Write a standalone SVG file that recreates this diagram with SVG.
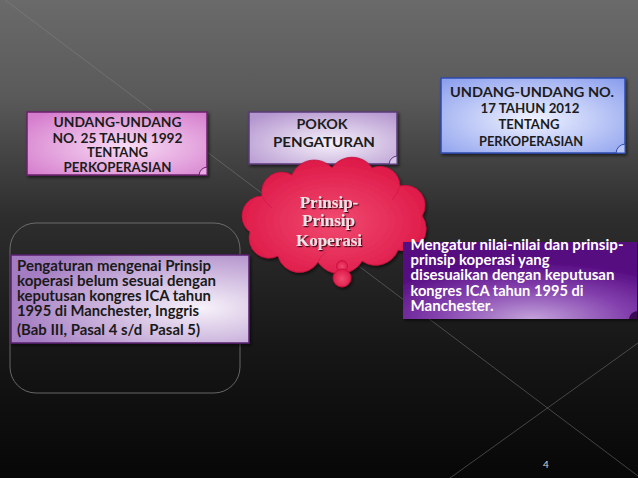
<svg xmlns="http://www.w3.org/2000/svg" width="638" height="478" viewBox="0 0 638 478">
<defs>
<linearGradient id="bg" x1="0" y1="0" x2="0" y2="1">
<stop offset="0" stop-color="#6a6a6a"/><stop offset="0.2" stop-color="#5a5a5a"/><stop offset="0.45" stop-color="#2e2e2e"/><stop offset="0.75" stop-color="#151515"/><stop offset="1" stop-color="#070707"/>
</linearGradient>
<radialGradient id="gPink" cx="0.55" cy="0.55" r="0.7"><stop offset="0" stop-color="#f8dcf4"/><stop offset="1" stop-color="#d57ccd"/></radialGradient>
<radialGradient id="gLav" cx="0.55" cy="0.6" r="0.7"><stop offset="0" stop-color="#f6f1fa"/><stop offset="1" stop-color="#b597d0"/></radialGradient>
<radialGradient id="gBlue" cx="0.5" cy="0.55" r="0.7"><stop offset="0" stop-color="#f0f3ff"/><stop offset="1" stop-color="#8da0ee"/></radialGradient>
<radialGradient id="gLeft" cx="0.8" cy="0.6" r="0.8"><stop offset="0" stop-color="#f7f2fa"/><stop offset="1" stop-color="#a47cc2"/></radialGradient>
<radialGradient id="gRight" cx="0.55" cy="1" r="0.75"><stop offset="0" stop-color="#c3a2db"/><stop offset="0.55" stop-color="#8340ad"/><stop offset="1" stop-color="#550a80"/></radialGradient>
<radialGradient id="gCloud" cx="0.5" cy="0.55" r="0.6"><stop offset="0" stop-color="#f04a70"/><stop offset="1" stop-color="#dc1444"/></radialGradient>
<filter id="sh" x="-10%" y="-10%" width="130%" height="140%"><feDropShadow dx="1.5" dy="2" stdDeviation="1.5" flood-color="#000" flood-opacity="0.55"/></filter>
<filter id="tsh" x="-10%" y="-10%" width="130%" height="140%"><feDropShadow dx="1.2" dy="1.2" stdDeviation="0.4" flood-color="#300010" flood-opacity="0.9"/></filter>
</defs>
<style>
.hd{font-family:Lato,"Liberation Sans",sans-serif;font-weight:bold;font-size:13.5px;fill:#1c1c1c;text-anchor:middle}
.bd{font-family:Lato,"Liberation Sans",sans-serif;font-weight:bold;font-size:14.5px;fill:#1a1a1a}
.wt{font-family:Lato,"Liberation Sans",sans-serif;font-weight:bold;font-size:14.5px;fill:#ffffff}
.cl{font-family:"Liberation Serif",serif;font-weight:bold;font-size:17px;fill:#f6e0e6;text-anchor:middle}
.curl{stroke-width:1}
</style>
<rect width="638" height="478" fill="url(#bg)"/>
<g id="decor" fill="none" stroke="#8a8a8a" stroke-opacity="0.45" stroke-width="1">
<line x1="5" y1="0" x2="638" y2="476"/>
<line x1="450" y1="478" x2="638" y2="343"/>
<rect x="10" y="223" width="230" height="170" rx="26" stroke="#7a7a7a" stroke-opacity="0.8"/>
</g>
<g id="connectors"/>
<g id="uu1992">
<rect x="27" y="112" width="180" height="63" fill="url(#gPink)" stroke="#6b1f6b" stroke-width="1.5" filter="url(#sh)"/>
<path d="M199,175 Q200,168 207,167 L207,175 Z" fill="#e9a9e3" stroke="#6b1f6b" class="curl"/>
<text class="hd" x="117.5" y="126.5" textLength="128" lengthAdjust="spacingAndGlyphs">UNDANG-UNDANG</text>
<text class="hd" x="117.5" y="143" textLength="130" lengthAdjust="spacingAndGlyphs">NO. 25 TAHUN 1992</text>
<text class="hd" x="117.5" y="157" textLength="61" lengthAdjust="spacingAndGlyphs">TENTANG</text>
<text class="hd" x="117.5" y="171.5" textLength="108" lengthAdjust="spacingAndGlyphs">PERKOPERASIAN</text>
</g>
<g id="pokok">
<rect x="249" y="112" width="148" height="52" fill="url(#gLav)" stroke="#5b3a7a" stroke-width="1.5" filter="url(#sh)"/>
<path d="M389,164 Q390,157 397,156 L397,164 Z" fill="#d8c6ea" stroke="#5b3a7a" class="curl"/>
<text class="hd" x="322" y="129.3" font-size="15" textLength="51" lengthAdjust="spacingAndGlyphs">POKOK</text>
<text class="hd" x="324" y="146.7" font-size="15" textLength="102" lengthAdjust="spacingAndGlyphs">PENGATURAN</text>
</g>
<g id="uu2012">
<rect x="441" y="78" width="184" height="75" fill="url(#gBlue)" stroke="#2c4bb0" stroke-width="1.5" filter="url(#sh)"/>
<path d="M616,153 Q617,145 625,144 L625,153 Z" fill="#b9c6f6" stroke="#2c4bb0" class="curl"/>
<text class="hd" x="532" y="96.7" textLength="164" lengthAdjust="spacingAndGlyphs">UNDANG-UNDANG NO.</text>
<text class="hd" x="530" y="112.7" textLength="99" lengthAdjust="spacingAndGlyphs">17 TAHUN 2012</text>
<text class="hd" x="529" y="129.3" textLength="61" lengthAdjust="spacingAndGlyphs">TENTANG</text>
<text class="hd" x="531" y="146" textLength="104" lengthAdjust="spacingAndGlyphs">PERKOPERASIAN</text>
</g>
<g id="lama">
<rect x="11" y="255" width="238" height="88" fill="url(#gLeft)" stroke="#5a1f70" stroke-width="1.5" filter="url(#sh)"/>
<text class="bd" x="17" y="270.7" textLength="194" lengthAdjust="spacingAndGlyphs">Pengaturan mengenai Prinsip</text>
<text class="bd" x="17" y="285.5" textLength="199" lengthAdjust="spacingAndGlyphs">koperasi belum sesuai dengan</text>
<text class="bd" x="17" y="301" textLength="194" lengthAdjust="spacingAndGlyphs">keputusan kongres ICA tahun</text>
<text class="bd" x="17" y="316.3" textLength="182" lengthAdjust="spacingAndGlyphs">1995 di Manchester, Inggris</text>
<text class="bd" x="17" y="335" textLength="183" lengthAdjust="spacingAndGlyphs" xml:space="preserve">(Bab III, Pasal 4 s/d  Pasal 5)</text>
</g>
<g id="prinsip">
<g filter="url(#sh)" fill="url(#gCloud)" stroke="#c8103a" stroke-width="0.8">
<path d="M250,232 A20,20 0 0 1 262,196 A20,20 0 0 1 292,175 A24,24 0 0 1 332,168 A24,24 0 0 1 372,168 A20,20 0 0 1 400,186 A20,20 0 0 1 422,216 A22,22 0 0 1 398,250 A24,24 0 0 1 362,261 A26,26 0 0 1 318,262 A22,22 0 0 1 278,256 A20,20 0 0 1 250,232 Z"/>
<circle cx="342" cy="266" r="5.5"/>
<circle cx="342" cy="278" r="9"/>
</g>
<g fill="none" stroke="#b80c36" stroke-opacity="0.45" stroke-width="0.8">
<path d="M262,196 Q266,204 272,208"/>
<path d="M400,186 Q398,194 392,200"/>
<path d="M318,262 Q320,256 326,252"/>
</g>
<text class="cl" x="329" y="207.7" filter="url(#tsh)">Prinsip-</text>
<text class="cl" x="328.5" y="225.5" filter="url(#tsh)">Prinsip</text>
<text class="cl" x="329" y="246" filter="url(#tsh)">Koperasi</text>
</g>
<g id="baru">
<rect x="403" y="242" width="234" height="77" fill="url(#gRight)" filter="url(#sh)"/>
<path d="M629,319 Q630,312 637,311 L637,319 Z" fill="#3a0a55" class="curl"/>
<text class="wt" x="410.5" y="249.5" textLength="213" lengthAdjust="spacingAndGlyphs">Mengatur nilai-nilai dan prinsip-</text>
<text class="wt" x="410.5" y="264.5" textLength="139" lengthAdjust="spacingAndGlyphs">prinsip koperasi yang</text>
<text class="wt" x="410.5" y="280" textLength="204" lengthAdjust="spacingAndGlyphs">disesuaikan dengan keputusan</text>
<text class="wt" x="410.5" y="295.5" textLength="173" lengthAdjust="spacingAndGlyphs">kongres ICA tahun 1995 di</text>
<text class="wt" x="410.5" y="311" textLength="83" lengthAdjust="spacingAndGlyphs">Manchester.</text>
</g>
<text x="546" y="468" font-family="Lato,'Liberation Sans',sans-serif" font-size="10" fill="#d8d8d8" text-anchor="middle">4</text>
</svg>
